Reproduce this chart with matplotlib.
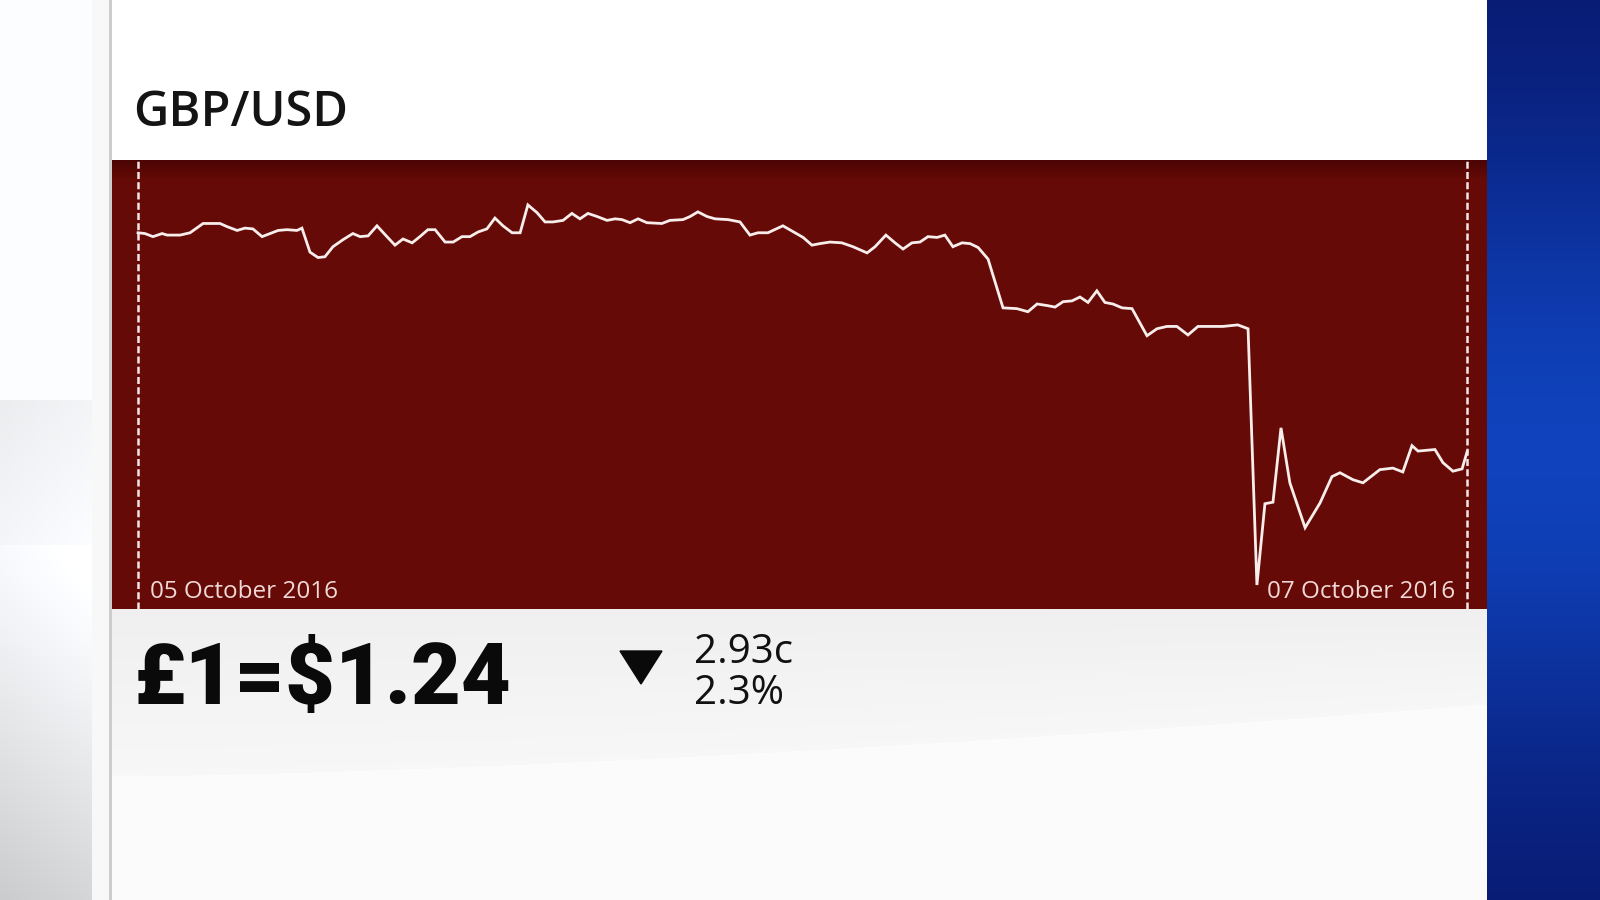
import numpy as np
import matplotlib
matplotlib.use("Agg")
import matplotlib.pyplot as plt
from matplotlib.patches import Polygon

# GBP/USD, hours after 05 Oct 2016 07:00
hours = [0.00, 0.25, 0.54, 0.87, 1.05, 1.52, 1.88, 2.35, 2.96, 3.21,
         3.58, 3.86, 4.15, 4.48, 4.77, 5.06, 5.38, 5.74, 5.92, 6.21,
         6.50, 6.75, 7.04, 7.40, 7.76, 8.02, 8.31, 8.63, 8.99, 9.28,
         9.57, 9.90, 10.18, 10.47, 10.73, 11.09, 11.38, 11.70, 11.99, 12.28,
         12.60, 12.89, 13.18, 13.51, 13.80, 14.08, 14.41, 14.70, 14.99, 15.35,
         15.67, 15.96, 16.25, 16.58, 16.94, 17.23, 17.48, 17.77, 18.06, 18.38,
         18.92, 19.21, 19.68, 19.94, 20.22, 20.55, 20.84, 21.31, 21.74, 22.10,
         22.39, 22.75, 23.29, 23.73, 24.02, 24.34, 24.63, 24.99, 25.42, 25.82,
         26.33, 26.62, 27.01, 27.34, 27.63, 27.95, 28.24, 28.53, 28.86, 29.14,
         29.43, 29.76, 30.05, 30.34, 30.70, 31.24, 31.74, 32.14, 32.47, 32.83,
         33.12, 33.41, 33.73, 34.02, 34.31, 34.63, 34.92, 35.21, 35.54, 35.90,
         36.44, 36.80, 37.16, 37.52, 37.92, 38.28, 39.18, 39.72, 40.09, 40.41,
         40.70, 40.99, 41.28, 41.60, 42.15, 42.69, 43.12, 43.41, 43.88, 44.24,
         44.85, 45.32, 45.68, 46.01, 46.23, 46.84, 47.13, 47.49, 47.82, 48.00]
gbp_usd = [1.2720, 1.2719, 1.2715, 1.2719, 1.2717, 1.2717, 1.2720, 1.2732, 1.2732, 1.2728,
           1.2723, 1.2726, 1.2725, 1.2715, 1.2719, 1.2723, 1.2724, 1.2723, 1.2726, 1.2695,
           1.2688, 1.2689, 1.2702, 1.2711, 1.2719, 1.2715, 1.2716, 1.2729, 1.2715, 1.2704,
           1.2712, 1.2707, 1.2715, 1.2724, 1.2724, 1.2708, 1.2708, 1.2715, 1.2715, 1.2721,
           1.2725, 1.2739, 1.2729, 1.2720, 1.2720, 1.2756, 1.2746, 1.2734, 1.2734, 1.2736,
           1.2745, 1.2738, 1.2745, 1.2741, 1.2736, 1.2738, 1.2737, 1.2733, 1.2738, 1.2733,
           1.2732, 1.2736, 1.2737, 1.2741, 1.2747, 1.2741, 1.2738, 1.2737, 1.2734, 1.2717,
           1.2720, 1.2720, 1.2729, 1.2720, 1.2714, 1.2704, 1.2706, 1.2708, 1.2707, 1.2702,
           1.2694, 1.2702, 1.2717, 1.2707, 1.2699, 1.2707, 1.2708, 1.2715, 1.2714, 1.2717,
           1.2702, 1.2707, 1.2706, 1.2701, 1.2686, 1.2623, 1.2622, 1.2618, 1.2628, 1.2626,
           1.2624, 1.2631, 1.2632, 1.2637, 1.2630, 1.2645, 1.2630, 1.2628, 1.2623, 1.2622,
           1.2587, 1.2596, 1.2599, 1.2599, 1.2588, 1.2599, 1.2599, 1.2601, 1.2596, 1.2265,
           1.2370, 1.2372, 1.2468, 1.2397, 1.2339, 1.2371, 1.2405, 1.2410, 1.2401, 1.2397,
           1.2414, 1.2416, 1.2411, 1.2445, 1.2438, 1.2440, 1.2423, 1.2412, 1.2415, 1.2437]

title = "GBP/USD"
start_label = "05 October 2016"
end_label = "07 October 2016"
change_pence = "2.93c"
change_pct = "2.3%"

W, H = 1600, 900
fig = plt.figure(figsize=(16, 9), dpi=100)


def fx(px):
    return px / W


def fy(py):
    return 1 - py / H


# ---- background picture (studio wall, panel, blue band) ----
yy, xx = np.mgrid[0:H, 0:W].astype(float)
img = np.ones((H, W, 3))

# left wall: white at the top, soft grey lower down
left = xx < 92
v = np.where(yy < 400, 0.99,
             np.where(yy < 545, 0.925 + 0.035 * (yy - 400) / 145 + 0.03 * xx / 92,
                      0.975 - 0.18 * ((yy - 545) / 355) ** 1.2 + 0.04 * xx / 92))
for c, k in enumerate((1.0, 1.004, 1.014)):
    img[..., c] = np.where(left, np.clip(v * k, 0, 1), img[..., c])
strip = (xx >= 92) & (xx < 109)
img[strip] = [0.975, 0.975, 0.975]
img[(xx >= 109) & (xx < 112)] = [0.80, 0.80, 0.81]

# panel lower part with soft swoosh
panel = (xx >= 112) & (xx < 1487) & (yy >= 609)
yb = 776 - 72 * ((xx - 112) / 1375) ** 1.5
lower = np.where(yy < yb, 0.94 + 0.03 * (yy - 609) / (yb - 609 + 1), 0.985)
for c in range(3):
    img[..., c] = np.where(panel, lower, img[..., c])

# blue band on the right
blue = xx >= 1487
t = yy / H
bump = np.exp(-((t - 0.5) / 0.35) ** 2)
r = 0.03 + 0.03 * bump
g = 0.09 + 0.17 * bump
b = 0.42 + 0.32 * bump
for c, arr in enumerate((r, g, b)):
    img[..., c] = np.where(blue, arr, img[..., c])

bg = fig.add_axes([0, 0, 1, 1], zorder=-5)
bg.imshow(img, aspect="auto", interpolation="bilinear")
bg.set_axis_off()

# ---- chart ----
x_left, x_right = -0.94, 48.72
ax = fig.add_axes([fx(112), fy(609), fx(1487 - 112), (609 - 160) / H])
ax.set_facecolor("#650a07")
ax.plot(hours, gbp_usd, color="#f7eeec", lw=2.0, solid_joinstyle="miter", zorder=3)
for h in (hours[0], hours[-1]):
    ax.axvline(h, color="#f4e6e4", lw=1.8, linestyle=(0, (2.8, 1.3)), zorder=2)
ax.set_xlim(x_left, x_right)
ax.set_ylim(1.2234, 1.2814)
ax.set_xticks([])
ax.set_yticks([])
for s in ax.spines.values():
    s.set_visible(False)

# slight shadow under the header
shade = np.zeros((20, 2, 4))
shade[..., 0] = 0.2
shade[..., 3] = np.linspace(0.55, 0, 20)[:, None]
ax.imshow(shade, extent=[0, 1, 0.955, 1], transform=ax.transAxes,
          aspect="auto", zorder=1)

fig.text(fx(133), fy(113), title, fontsize=35, fontfamily="Open Sans",
         fontweight="semibold", color="#141414", va="center", ha="left")
fig.text(fx(150), fy(598), start_label, fontsize=17.5, fontfamily="Open Sans",
         color="#f0d9d6", va="baseline", ha="left")
fig.text(fx(1455), fy(598), end_label, fontsize=17.5, fontfamily="Open Sans",
         color="#f0d9d6", va="baseline", ha="right")

# ---- rate read-out ----
fig.text(fx(134), fy(704), f"£1=${gbp_usd[-1]:.2f}", fontsize=62,
         fontfamily="Roboto", fontweight="heavy",
         color="#0a0a0a", va="baseline", ha="left")
tri = Polygon([[fx(620), fy(651)], [fx(662), fy(651)], [fx(641), fy(684)]],
              closed=True, transform=fig.transFigure, color="#0a0a0a")
fig.add_artist(tri)
fig.text(fx(694), fy(663), change_pence, fontsize=29, fontfamily="Open Sans",
         color="#111111", va="baseline", ha="left")
fig.text(fx(694), fy(704), change_pct, fontsize=29, fontfamily="Open Sans",
         color="#111111", va="baseline", ha="left")

fig.savefig("out.png", dpi=100)
